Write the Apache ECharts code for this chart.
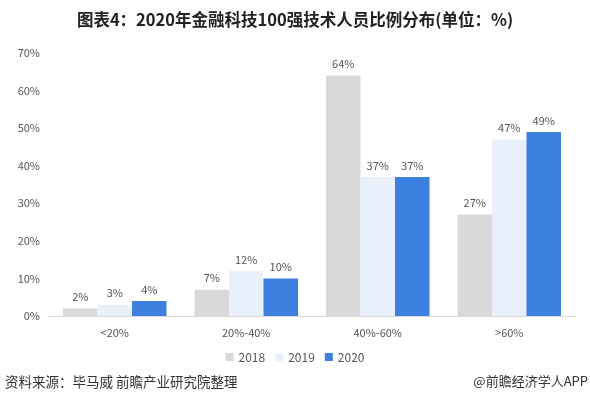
<!DOCTYPE html>
<html><head><meta charset="utf-8">
<script src="https://cdn.jsdelivr.net/npm/echarts@6/dist/echarts.min.js"></script>
<style>html,body{margin:0;padding:0;background:#fff;}#c{width:590px;height:406px;}</style>
</head><body><div id="c"></div>
<script>
const categories = ['<20%', '20%-40%', '40%-60%', '>60%'];
const s2018 = [2, 7, 64, 27];
const s2019 = [3, 12, 37, 47];
const s2020 = [4, 10, 37, 49];
const yTicks = ['0%','10%','20%','30%','40%','50%','60%','70%'];
const chart = echarts.init(document.getElementById('c'));
const F = '"Microsoft YaHei","Noto Sans CJK SC",sans-serif';
const lbl = {show:true, position:'top', formatter:'{c}%', color:'#555', fontSize:11, fontFamily:F, distance:6};
chart.setOption({
  animation:false,
  title:{text:'图表4：2020年金融科技100强技术人员比例分布(单位：%)', left:'center', top:6,
    textStyle:{fontSize:16.5, fontWeight:'bold', color:'#222', fontFamily:F}},
  graphic:[
    {type:'text', left:5, top:375, style:{text:'资料来源：毕马威 前瞻产业研究院整理', fontSize:13.5, fill:'#333', fontFamily:F}},
    {type:'text', right:2, top:375, style:{text:'@前瞻经济学人APP', fontSize:13, fill:'#333', fontFamily:F}}
  ],
  legend:{bottom:38, left:'center', itemWidth:8, itemHeight:8, itemGap:10, icon:'rect',
    textStyle:{color:'#555', fontSize:12, fontFamily:F}},
  grid:{left:49, right:15, top:53, bottom:90, containLabel:false},
  xAxis:{type:'category', data:categories,
    axisLine:{lineStyle:{color:'#d9d9d9'}}, axisTick:{show:false},
    axisLabel:{color:'#555', fontSize:11, fontFamily:F, margin:11}},
  yAxis:{type:'value', min:0, max:70, interval:10,
    axisLabel:{formatter:function(v){return yTicks[v/10];}, color:'#555', fontSize:11, fontFamily:F, margin:9},
    splitLine:{show:false}, axisLine:{show:false}, axisTick:{show:false}},
  series:[
    {name:'2018', type:'bar', data:s2018, barWidth:34.5, barGap:'0%', itemStyle:{color:'#d9d9d9'}, label:lbl},
    {name:'2019', type:'bar', data:s2019, barWidth:34.5, barGap:'0%', itemStyle:{color:'#e9f0fb'}, label:lbl},
    {name:'2020', type:'bar', data:s2020, barWidth:34.5, barGap:'0%', itemStyle:{color:'#3d7fdf'}, label:lbl}
  ]
});
</script></body></html>
